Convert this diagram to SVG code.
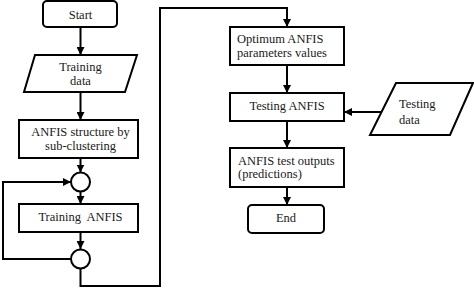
<svg xmlns="http://www.w3.org/2000/svg" width="474" height="288" viewBox="0 0 474 288">
<defs>
<style>
.s{fill:#fff;stroke:#000;stroke-width:2}
.c{fill:none;stroke:#000;stroke-width:2}
text{font-family:"Liberation Serif","Times New Roman",serif;font-size:12.5px;fill:#1a1a1a}
.m{text-anchor:middle}
</style>
<marker id="a" markerWidth="8" markerHeight="8" refX="8" refY="4" orient="auto" markerUnits="userSpaceOnUse">
<path d="M0,0 L8,4 L0,8 z" fill="#000"/>
</marker>
</defs>
<rect width="474" height="288" fill="#fff"/>
<g id="connectors">
<path class="c" d="M80.5,27 V55" marker-end="url(#a)"/>
<path class="c" d="M80.5,92 V120" marker-end="url(#a)"/>
<path class="c" d="M80.5,158 V172.5" marker-end="url(#a)"/>
<path class="c" d="M80.5,191.5 V204" marker-end="url(#a)"/>
<path class="c" d="M80.5,232 V249" marker-end="url(#a)"/>
<path class="c" d="M71,259 H3 V182 H71" marker-end="url(#a)"/>
<path class="c" d="M80.5,268.5 V286 H160 V8 H287 V27" marker-end="url(#a)"/>
<path class="c" d="M287,65 V93" marker-end="url(#a)"/>
<path class="c" d="M381,112 H344" marker-end="url(#a)"/>
<path class="c" d="M287,121 V148" marker-end="url(#a)"/>
<path class="c" d="M287,187 V205" marker-end="url(#a)"/>
</g>
<g id="start"><rect class="s" x="43" y="1" width="74" height="26" rx="4"/><text class="m" x="80.5" y="19">Start</text></g>
<g id="training-data"><polygon class="s" points="35,55 137,55 125,92 24,92"/><text class="m" x="80.5" y="71">Training</text><text class="m" x="80.5" y="85">data</text></g>
<g id="anfis-structure"><rect class="s" x="19" y="120" width="119" height="38"/><text class="m" x="80.5" y="136">ANFIS structure by</text><text class="m" x="80.5" y="150">sub-clustering</text></g>
<g id="junction1"><circle class="s" cx="80.5" cy="182" r="9.5"/></g>
<g id="training-anfis"><rect class="s" x="19" y="204" width="119" height="28"/><text class="m" x="80.5" y="221" word-spacing="3">Training ANFIS</text></g>
<g id="junction2"><circle class="s" cx="80.5" cy="259" r="9.5"/></g>
<g id="optimum"><rect class="s" x="230" y="27" width="114" height="38"/><text x="237" y="43">Optimum ANFIS</text><text x="237" y="57">parameters values</text></g>
<g id="testing-anfis"><rect class="s" x="230" y="93" width="114" height="28"/><text class="m" x="287" y="110">Testing ANFIS</text></g>
<g id="testing-data"><polygon class="s" points="396,83 473,83 450,135 370,135"/><text x="399" y="108">Testing</text><text x="399" y="124">data</text></g>
<g id="test-outputs"><rect class="s" x="230" y="148" width="114" height="39"/><text x="238" y="165">ANFIS test outputs</text><text x="238" y="178">(predictions)</text></g>
<g id="end"><rect class="s" x="248" y="205" width="76" height="28" rx="4"/><text class="m" x="286" y="222">End</text></g>
</svg>
